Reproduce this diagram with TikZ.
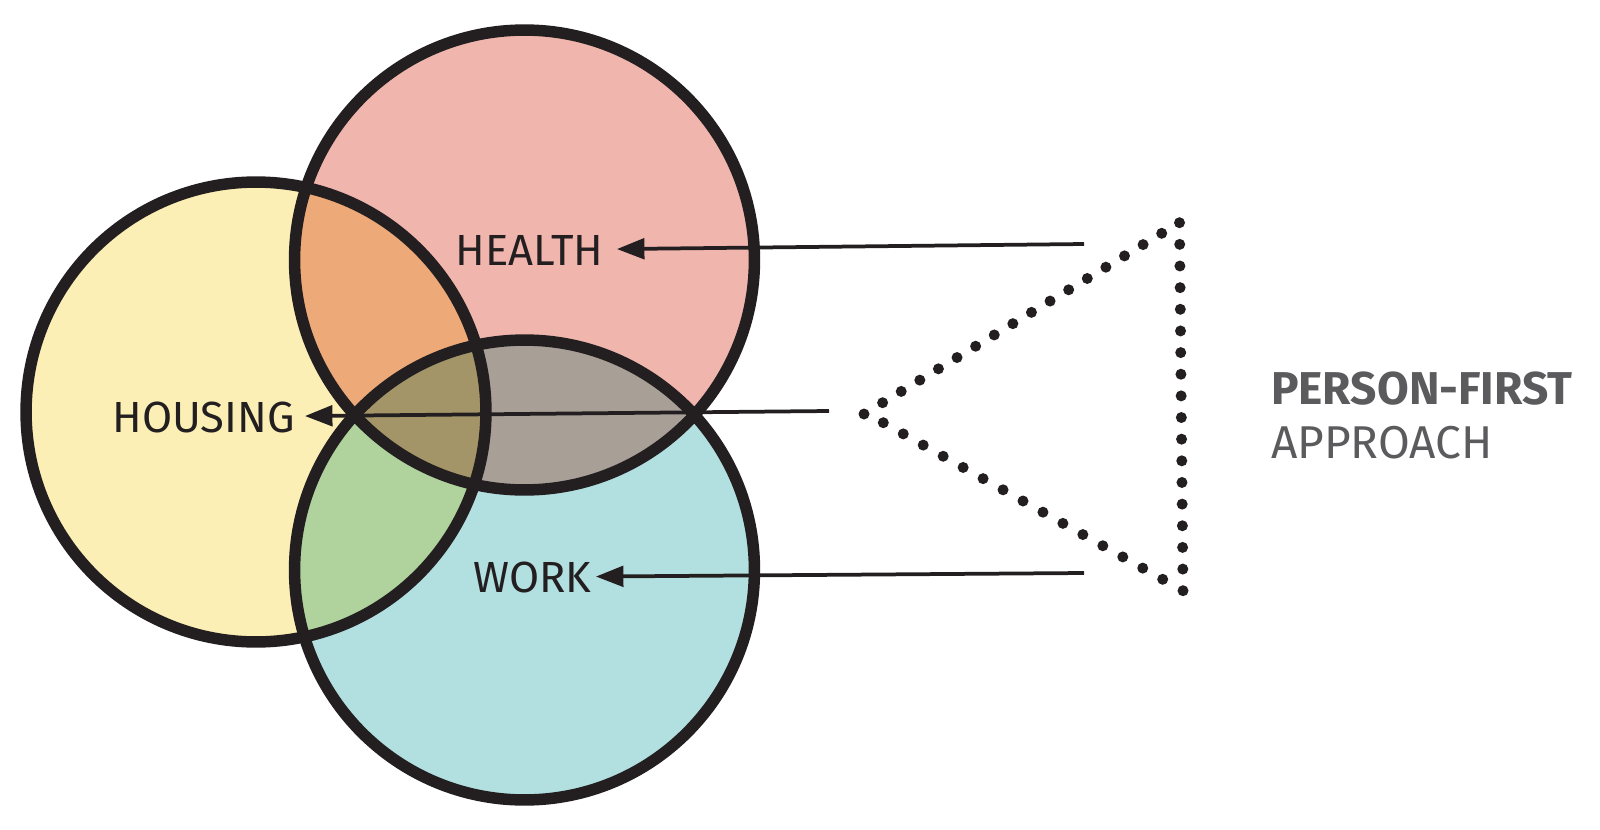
\documentclass[tikz,border=0pt]{standalone}
\usepackage{fontspec}
\setmainfont{Fira Sans}
\usetikzlibrary{arrows.meta}
\definecolor{cyel}{HTML}{FBEFB6}
\definecolor{cpink}{HTML}{F0B5AD}
\definecolor{ccyan}{HTML}{B2DFE0}
\definecolor{corange}{HTML}{EDAA78}
\definecolor{cgreen}{HTML}{B0D29D}
\definecolor{cgray}{HTML}{A89F97}
\definecolor{colive}{HTML}{A39568}
\definecolor{cink}{HTML}{231F20}
\definecolor{ctext}{HTML}{5B5B5D}
\begin{document}
\begin{tikzpicture}[x=0.02cm,y=-0.02cm,
  ring/.style={draw=cink,line width=0.23cm},
  conn/.style={draw=cink,line width=0.075cm,-{Triangle[length=0.55cm,width=0.41cm]}},
  lab/.style={font=\fontsize{24.8}{26}\selectfont,text=cink,inner sep=0pt},
  side/.style={anchor=west,inner sep=0pt,text=ctext},
  dot/.style={fill=cink}]
\useasboundingbox (0,0) rectangle (1600,829);
\coordinate (cH) at (524.5,260);
\coordinate (cS) at (256,412);
\coordinate (cW) at (524.5,570);
% fills
\fill[cyel] (cS) circle[radius=4.6cm];
\fill[cpink] (cH) circle[radius=4.6cm];
\fill[ccyan] (cW) circle[radius=4.6cm];
\begin{scope}
  \clip (cS) circle[radius=4.6cm];
  \fill[corange] (cH) circle[radius=4.6cm];
  \fill[cgreen] (cW) circle[radius=4.6cm];
\end{scope}
\begin{scope}
  \clip (cH) circle[radius=4.6cm];
  \fill[cgray] (cW) circle[radius=4.6cm];
  \clip (cS) circle[radius=4.6cm];
  \fill[colive] (cW) circle[radius=4.6cm];
\end{scope}
% outlines
\draw[ring] (cS) circle[radius=4.6cm];
\draw[ring] (cH) circle[radius=4.6cm];
\draw[ring] (cW) circle[radius=4.6cm];
% labels
\node[lab] (health) at (529.5,250) {HEALTH};
\node[lab] (housing) at (203.5,417) {HOUSING};
\node[lab] (work) at (532.5,577) {WORK};
% arrows
\coordinate (sH) at (1084,244);
\coordinate (sS) at (829,411);
\coordinate (sW) at (1084,573);
\draw[conn,shorten >=0.26cm] (sH) -- (health);
\draw[conn,shorten >=0.2cm] (sS) -- (housing);
\draw[conn,shorten >=0.08cm] (sW) -- (work);
% dotted triangle
\foreach \i in {0,...,17} \fill[dot] ({1179.5+3.5*\i/17},{222.7+368*\i/17}) circle[radius=0.11cm];
\foreach \i in {0,...,16} \fill[dot] ({864+297.7*\i/16},{414-180.7*\i/16}) circle[radius=0.11cm];
\foreach \i in {0,...,14} \fill[dot] ({883.3+279.4*\i/14},{422.7+156.6*\i/14}) circle[radius=0.11cm];
% side text
\node[side,font=\fontsize{26.2}{28}\selectfont\bfseries] (pf) at (1270.7,388.7) {PERSON-FIRST};
\node[side,font=\fontsize{26.2}{28}\selectfont] (ap) at (1270.7,442.8) {APPROACH};
\end{tikzpicture}
\end{document}
